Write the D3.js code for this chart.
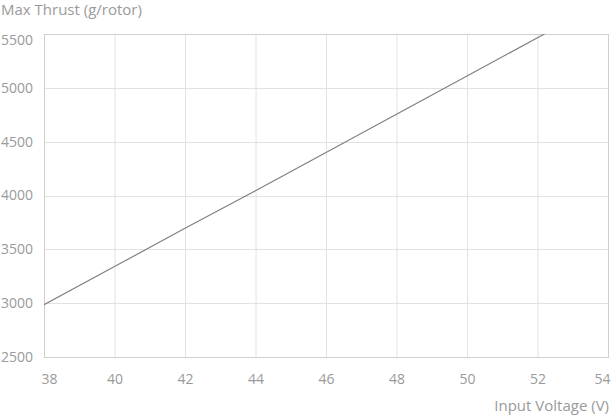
<!DOCTYPE html>
<html>
<head>
<meta charset="utf-8">
<script src="https://cdn.jsdelivr.net/npm/d3@7"></script>
<style>
  body { margin: 0; background: #fff; }
  svg { display: block; }
</style>
</head>
<body>
<div id="chart"></div>
<script>
// data
var voltages = [38, 40, 42, 44, 46, 48, 50, 52, 52.2];
var thrust = [2985, 3340, 3695, 4045, 4400, 4755, 5110, 5465, 5500];
var xTicks = [38, 40, 42, 44, 46, 48, 50, 52, 54];
var yTicks = [2500, 3000, 3500, 4000, 4500, 5000, 5500];
var xTitle = 'Input Voltage (V)';
var yTitle = 'Max Thrust (g/rotor)';

var attrs = {
    svgWidth: 612,
    svgHeight: 416,
    marginTop: 34,
    marginBottom: 59,
    marginLeft: 44,
    marginRight: 4,
    font: '"Open Sans", sans-serif',
    textFill: '#9a9a9a',
    gridColor: '#e2e2e2',
    frameColor: '#cfcfcf',
    lineColor: '#808080'
};

var calc = {};
calc.chartWidth = attrs.svgWidth - attrs.marginLeft - attrs.marginRight;
calc.chartHeight = attrs.svgHeight - attrs.marginTop - attrs.marginBottom;

var x = d3.scaleLinear().domain([38, 54]).range([0, calc.chartWidth]);
var y = d3.scaleLinear().domain([2500, 5500]).range([calc.chartHeight, 0]);

var svg = d3.select('#chart').append('svg')
    .attr('width', attrs.svgWidth)
    .attr('height', attrs.svgHeight)
    .attr('font-family', attrs.font);

var chart = svg.append('g')
    .attr('transform', 'translate(' + attrs.marginLeft + ',' + attrs.marginTop + ')');

// grid
chart.append('g').selectAll('line').data(xTicks).join('line')
    .attr('x1', d => x(d) + 0.5).attr('x2', d => x(d) + 0.5)
    .attr('y1', 0).attr('y2', calc.chartHeight)
    .attr('stroke', attrs.gridColor);

chart.append('g').selectAll('line').data(yTicks).join('line')
    .attr('y1', d => Math.round(y(d)) + 0.5).attr('y2', d => Math.round(y(d)) + 0.5)
    .attr('x1', 0).attr('x2', calc.chartWidth)
    .attr('stroke', attrs.gridColor);

// frame
chart.append('rect')
    .attr('x', 0.5).attr('y', 0.5)
    .attr('width', calc.chartWidth).attr('height', Math.round(calc.chartHeight))
    .attr('fill', 'none')
    .attr('stroke', attrs.frameColor);

// axes
var xAxis = chart.append('g')
    .attr('transform', 'translate(0,' + calc.chartHeight + ')')
    .call(d3.axisBottom(x).tickValues(xTicks).tickFormat(d3.format('d')).tickSize(0).tickPadding(17));

var yAxis = chart.append('g')
    .call(d3.axisLeft(y).tickValues(yTicks).tickFormat(d3.format('d')).tickSize(0).tickPadding(11));

[xAxis, yAxis].forEach(function (a) {
    a.select('.domain').remove();
    a.selectAll('text')
        .attr('fill', attrs.textFill)
        .attr('font-size', 14)
        .attr('font-family', attrs.font);
});

// end labels are nudged inside the plot like the original
xAxis.selectAll('text')
    .filter(d => d === xTicks[0])
    .attr('text-anchor', 'start').attr('x', -3);
xAxis.selectAll('text')
    .filter(d => d === xTicks[xTicks.length - 1])
    .attr('text-anchor', 'end').attr('x', 2);
yAxis.selectAll('text')
    .filter(d => d === yTicks[yTicks.length - 1])
    .attr('dy', '0.75em');

// line
chart.append('clipPath').attr('id', 'clip')
    .append('rect').attr('width', calc.chartWidth).attr('height', calc.chartHeight);

var line = d3.line()
    .x((d, i) => x(voltages[i]))
    .y(d => y(d));

chart.append('path')
    .datum(thrust)
    .attr('clip-path', 'url(#clip)')
    .attr('d', line)
    .attr('fill', 'none')
    .attr('stroke', attrs.lineColor)
    .attr('stroke-width', 1.2);

// titles
svg.append('text')
    .attr('x', 1).attr('y', 15)
    .attr('fill', attrs.textFill)
    .attr('font-size', 15)
    .text(yTitle);

svg.append('text')
    .attr('x', attrs.svgWidth - 3).attr('y', 411)
    .attr('text-anchor', 'end')
    .attr('fill', attrs.textFill)
    .attr('font-size', 15)
    .text(xTitle);
</script>
</body>
</html>
